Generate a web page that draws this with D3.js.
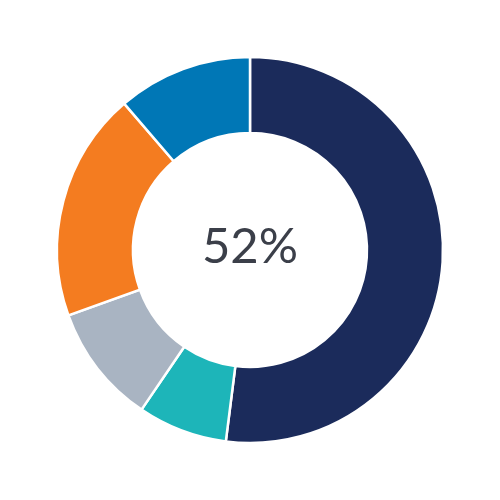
<!DOCTYPE html>
<html>
<head>
  <meta charset="utf-8">
  <title>Donut</title>
  <style>
    body { margin: 0; background: #fff; }
  </style>
</head>
<body>
  <div id='chart'></div>
  <script src="https://d3js.org/d3.v7.min.js"></script>
  <script>

    let categories = ['A', 'B', 'C', 'D', 'E'];
    let values = [52, 7.5, 10, 19.2, 11.3];
    let colors = ['#1b2b5b', '#1db5b9', '#a9b4c2', '#f47c20', '#0077b6'];
    let centerLabel = '52%';

    let svgWidth = 500;
    let svgHeight = 500;
    let outerR = 193;
    let innerR = 117;

    let data = categories.map((c, i) => ({name: c, value: values[i], color: colors[i]}));

    let svg = d3.select('#chart')
      .append('svg')
      .attr('width', svgWidth)
      .attr('height', svgHeight)
      .append('g')
        .attr('transform', 'translate(' + svgWidth / 2 + ',' + svgHeight / 2 + ')');

    let pie = d3.pie()
      .sort(null)
      .value(d => d.value);

    let arc = d3.arc()
      .innerRadius(innerR)
      .outerRadius(outerR);

    svg.selectAll('path')
      .data(pie(data))
      .enter()
      .append('path')
      .attr('d', arc)
      .style('fill', d => d.data.color)
      .style('stroke', '#fff')
      .style('stroke-width', 2.5);

    svg.append('text')
      .attr('text-anchor', 'middle')
      .attr('y', 13)
      .style('font-family', 'Lato, "Open Sans", sans-serif')
      .style('font-size', '49px')
      .style('font-weight', 400)
      .style('fill', '#3b3f49')
      .text(centerLabel);

  </script>
</body>
</html>
